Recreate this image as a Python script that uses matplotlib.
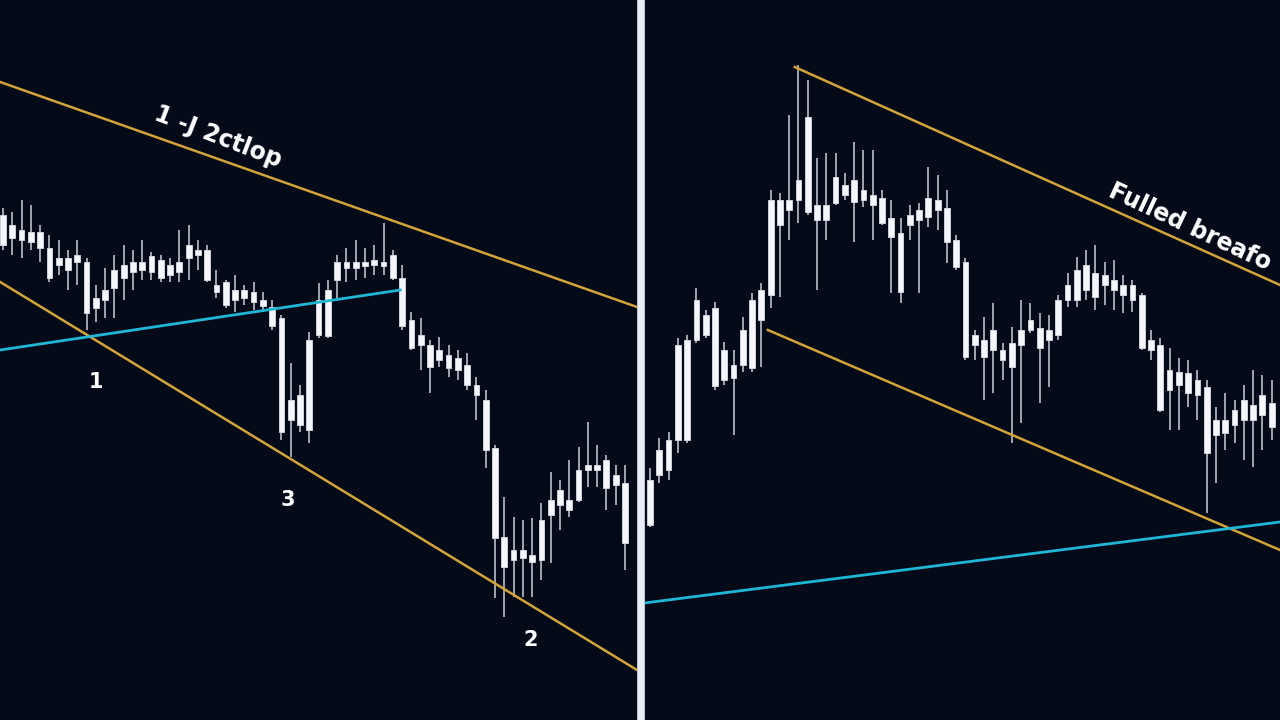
import numpy as np
import matplotlib
matplotlib.use('Agg')
import matplotlib.pyplot as plt
from matplotlib.lines import Line2D

# Left panel candles (price units)
left_high = [512, 508, 520, 515, 495, 485, 480, 470, 480, 462, 435, 452, 465, 475, 470, 480, 468,
             465, 462, 490, 495, 480, 475, 450, 440, 445, 435, 438, 428, 420, 405, 357, 335, 388,
             437, 440, 465, 472, 480, 472, 475, 497, 470, 455, 408, 402, 380, 383, 375, 370, 367,
             343, 330, 275, 223, 203, 200, 202, 217, 248, 240, 260, 273, 298, 275, 265, 255, 255]
left_open = [475, 482, 480, 478, 472, 442, 455, 450, 458, 407, 412, 420, 432, 442, 448, 450, 448,
             442, 445, 448, 462, 465, 440, 428, 415, 420, 422, 418, 414, 394, 288, 300, 295, 290,
             385, 384, 440, 452, 452, 454, 455, 454, 442, 394, 372, 375, 353, 360, 352, 350, 335,
             325, 270, 182, 153, 160, 162, 158, 160, 205, 215, 210, 220, 250, 250, 232, 235, 177]
left_close = [505, 495, 490, 488, 488, 472, 462, 462, 465, 458, 422, 430, 450, 455, 458, 458, 464,
              460, 455, 458, 475, 470, 470, 435, 438, 430, 430, 428, 420, 413, 402, 320, 325, 380,
              420, 430, 458, 458, 458, 458, 460, 458, 465, 442, 400, 385, 375, 370, 365, 362, 355,
              335, 320, 272, 183, 170, 170, 165, 200, 220, 230, 220, 250, 255, 255, 260, 245, 237]
left_low = [470, 465, 462, 470, 458, 438, 445, 430, 435, 390, 398, 402, 402, 420, 430, 440, 440,
            438, 438, 438, 440, 450, 438, 422, 412, 408, 415, 410, 408, 390, 280, 263, 288, 277,
            382, 382, 420, 438, 440, 442, 445, 445, 440, 390, 370, 350, 327, 353, 343, 340, 330,
            300, 252, 122, 103, 123, 123, 123, 140, 157, 190, 203, 218, 233, 233, 210, 215, 150]

# Right panel candles (price units)
right_high = [252, 282, 288, 382, 385, 432, 410, 418, 378, 370, 403, 427, 437, 530, 527, 605, 655,
              640, 562, 567, 567, 547, 578, 570, 570, 530, 520, 502, 515, 517, 553, 545, 530, 485,
              462, 390, 403, 417, 377, 393, 420, 417, 407, 405, 425, 447, 463, 470, 475, 458, 460,
              445, 440, 427, 390, 382, 372, 362, 360, 350, 340, 313, 327, 320, 335, 350, 345, 340]
right_open = [195, 245, 250, 280, 280, 380, 385, 334, 340, 342, 355, 352, 400, 425, 495, 510, 520,
              508, 500, 500, 517, 525, 518, 520, 515, 497, 483, 428, 495, 500, 503, 510, 478, 453,
              363, 375, 363, 370, 360, 353, 375, 390, 372, 380, 385, 420, 420, 430, 423, 435, 430,
              425, 420, 372, 370, 310, 330, 335, 327, 325, 267, 285, 287, 295, 300, 300, 305, 293]
right_close = [240, 270, 280, 375, 380, 420, 405, 412, 370, 355, 390, 420, 430, 520, 520, 520, 540,
               603, 515, 515, 543, 535, 540, 530, 525, 522, 502, 487, 505, 510, 522, 520, 512, 480,
               458, 385, 380, 390, 370, 377, 390, 400, 392, 390, 420, 435, 450, 455, 447, 445, 440,
               435, 435, 425, 380, 375, 350, 348, 347, 340, 333, 300, 300, 310, 320, 315, 325, 317]
right_low = [193, 237, 240, 267, 277, 377, 382, 330, 335, 285, 348, 348, 353, 412, 423, 480, 497,
             505, 430, 480, 515, 520, 478, 513, 480, 495, 427, 417, 480, 427, 493, 490, 457, 450,
             360, 360, 320, 327, 340, 277, 297, 387, 317, 333, 380, 413, 413, 420, 410, 415, 410,
             407, 408, 370, 360, 308, 290, 290, 313, 300, 207, 237, 270, 277, 260, 253, 270, 280]

# Trendlines: (candle index, price) end points
left_upper = ([-0.3, 68.3], [638, 413])
left_lower = ([-0.3, 68.3], [438, 50])
left_cyan = ([-0.3, 42.8], [370, 430])
right_upper = ([15.6, 67.9], [653, 435])
right_lower = ([12.7, 67.9], [390, 170])
right_cyan = ([-0.6, 67.9], [117, 198])

bg = '#050a18'
gold = '#d2a43a'
cyan = '#1fb6d6'


def draw_candles(ax, o, h, l, c):
    o, h, l, c = map(np.array, (o, h, l, c))
    x = np.arange(len(o))
    bottom = np.minimum(o, c)
    height = np.maximum(np.abs(c - o), 3)
    ax.vlines(x, l, h, color='#b9c0cc', linewidth=1.2, zorder=2)
    ax.bar(x, height, bottom=bottom, width=0.62, color='#f4f6fa',
           edgecolor='#d8dde6', linewidth=0.6, zorder=3)


fig = plt.figure(figsize=(12.8, 7.2), dpi=100, facecolor=bg)
ax1 = fig.add_axes([0, 0, 637 / 1280, 1])
ax2 = fig.add_axes([645 / 1280, 0, 635 / 1280, 1])

for ax in (ax1, ax2):
    ax.set_facecolor(bg)
    ax.set_ylim(0, 720)
    ax.axis('off')

ax1.set_xlim(-0.32, 68.3)
ax2.set_xlim(-0.54, 67.9)

# left panel
draw_candles(ax1, left_open, left_high, left_low, left_close)
ax1.plot(*left_upper, color=gold, lw=1.8, zorder=4)
ax1.plot(*left_lower, color=gold, lw=1.8, zorder=4)
ax1.plot(*left_cyan, color=cyan, lw=2.0, zorder=4)
ax1.text(16.4, 607, '1 -J 2ctlop', color='white', fontsize=17, fontweight='bold',
         rotation=-21, rotation_mode='anchor', ha='left', va='center', zorder=5)
for lx, ly, lab in [(10.0, 338, '1'), (30.7, 220, '3'), (56.8, 80, '2')]:
    ax1.text(lx, ly, lab, color='white', fontsize=15, fontweight='bold',
             ha='center', va='center', zorder=5)

# right panel
draw_candles(ax2, right_open, right_high, right_low, right_close)
ax2.plot(*right_upper, color=gold, lw=1.8, zorder=4)
ax2.plot(*right_lower, color=gold, lw=1.8, zorder=4)
ax2.plot(*right_cyan, color=cyan, lw=2.0, zorder=4)
ax2.text(49.6, 530, 'Fulled breafo', color='white', fontsize=17, fontweight='bold',
         rotation=-25, rotation_mode='anchor', ha='left', va='center', zorder=5, clip_on=True)

# divider between the two panels
fig.add_artist(Line2D([641 / 1280, 641 / 1280], [0, 1], color='#e8edf6', lw=5.5))

fig.savefig('out.png', dpi=100, facecolor=bg)
